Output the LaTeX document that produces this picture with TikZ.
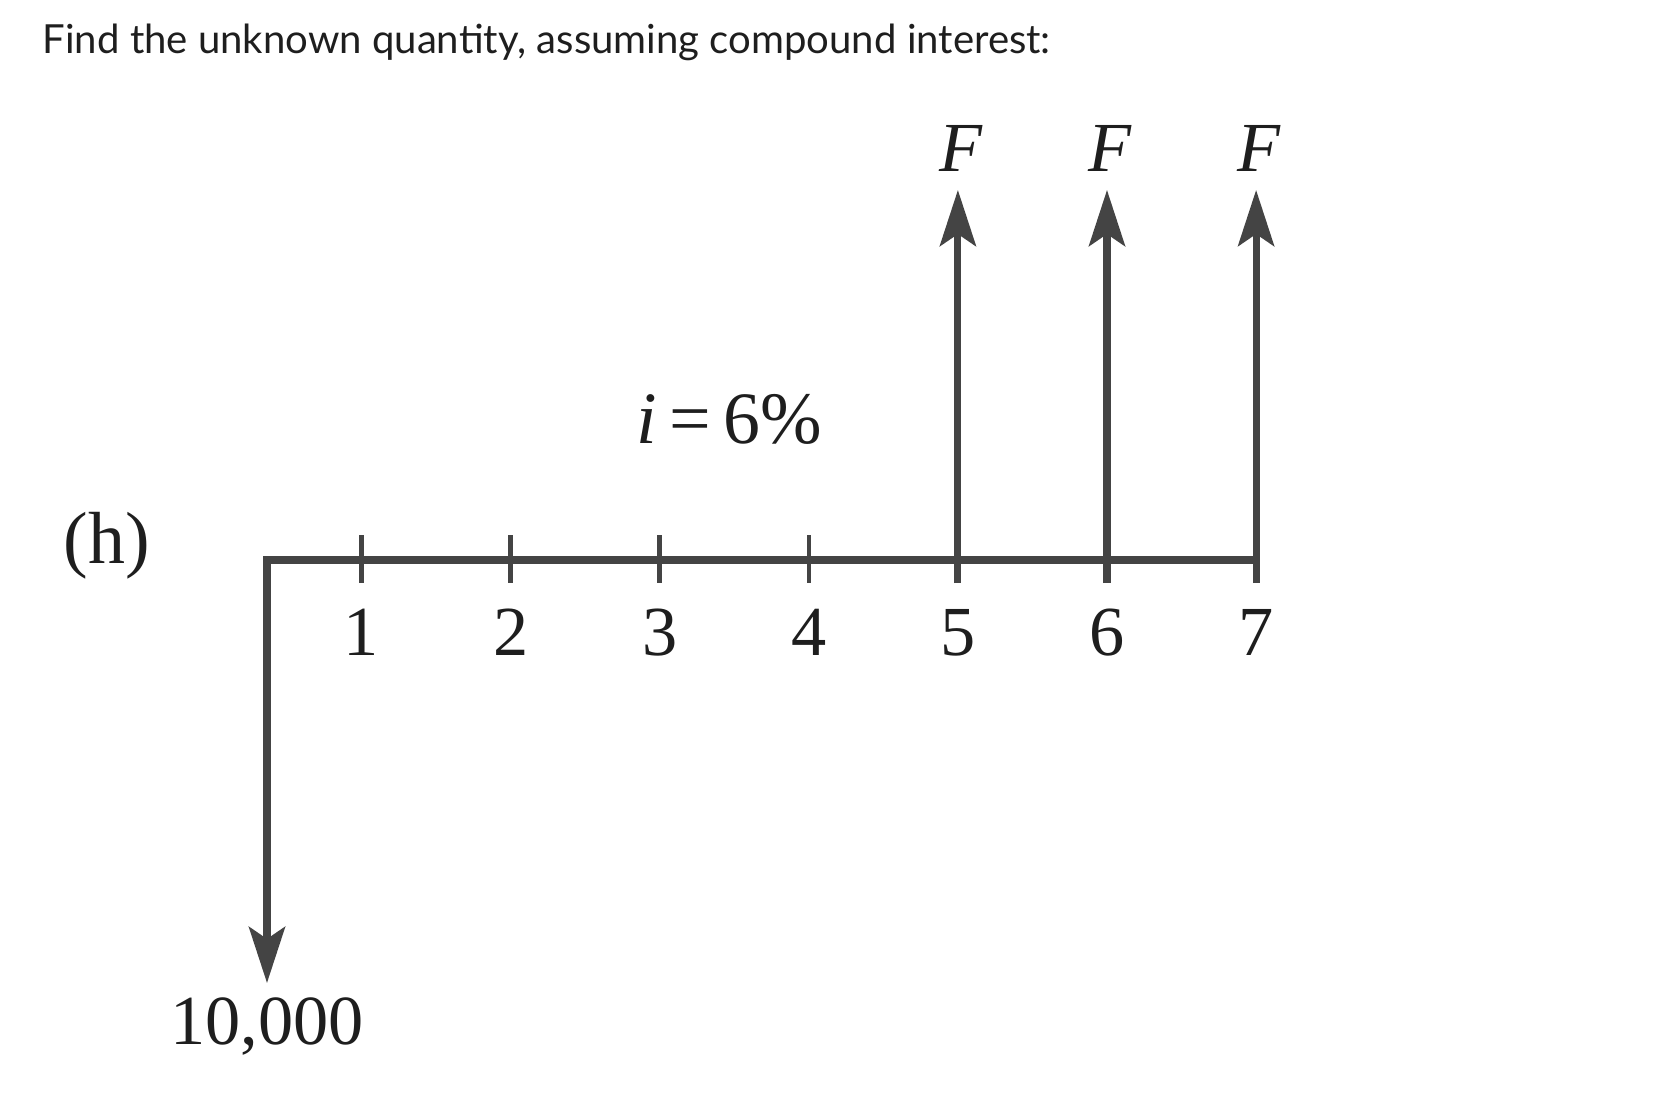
\documentclass[tikz,border=0pt]{standalone}
\usepackage{fontspec}
\setmainfont{Liberation Serif}
\newfontfamily\latofont{Lato}
\usetikzlibrary{arrows.meta,positioning}
\definecolor{linegray}{RGB}{68,68,68}
\definecolor{inkblack}{RGB}{30,30,30}

\begin{document}
\begin{tikzpicture}[x=0.01cm,y=-0.01cm
    , every node/.style={inner sep=0pt,text=inkblack}
    , flow/.style={draw=linegray,line width=2pt,-{Stealth[length=5.6mm,width=3.6mm,inset=1.2mm]}}
    , tickmark/.style={draw=linegray,line width=1.3pt}
]
    \useasboundingbox (0,0) rectangle (1665,1112);
    \fontsize{20}{24}\selectfont
    \edef\dx{149.1}
    \edef\axis{560}

    \node[anchor=base west,font=\latofont\fontsize{11.4}{14}\selectfont] (title) at (42,54)
        {Find the unknown quantity, assuming compound interest:};

    \node[anchor=base] (part) at (107,563) {\fontsize{21}{24}\selectfont (h)};
    \node[anchor=base] (rate) at (729,443) {\fontsize{21}{24}\selectfont \textit{i}\,=\,6\%};

    % Time line.
    \coordinate (origin) at (267,\axis);
    \foreach \k in {1,...,7}
    {
        \coordinate (period\k) at (361.5+\dx*\k-\dx,\axis);
        \path (period\k) ++(0,-25) coordinate (tickup\k);
        \path (period\k) ++(0,23) coordinate (tick\k);
        \draw[tickmark] (tickup\k) -- (tick\k);
        \node[anchor=base] (label\k) at (361.5+\dx*\k-\dx,655) {\k};
    }

    % Outlay.
    \path (origin) ++(0,423) coordinate (outlay);
    \draw[flow,line join=miter] (period7) -- (origin) -- (outlay);
    \node[below=0.14cm of outlay] (amount) {10,000};

    % Receipts.
    \foreach \k in {5,6,7}
    {
        \path (period\k) ++(0,-370) coordinate (receipt\k);
        \draw[flow] (tick\k) -- (receipt\k);
        \node[above=0.18cm of receipt\k,xshift=1pt] (future\k) {\textit{F}};
    }

\end{tikzpicture}
\end{document}
